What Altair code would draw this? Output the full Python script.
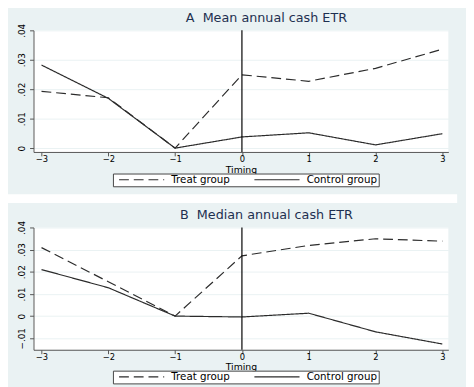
import altair as alt
import pandas as pd

timing = [-3, -2, -1, 0, 1, 2, 3]
groups = ["Treat group", "Control group"]

mean_treat = [0.0193, 0.0171, 0.0, 0.0249, 0.0227, 0.0271, 0.0336]
mean_control = [0.0282, 0.0169, 0.0, 0.0038, 0.0052, 0.0011, 0.0049]
median_treat = [0.0309, 0.0155, 0.0, 0.0272, 0.0319, 0.0349, 0.0338]
median_control = [0.0210, 0.0128, 0.0, -0.0004, 0.0013, -0.0071, -0.0126]

mean_ticks = [0, 0.01, 0.02, 0.03, 0.04]
median_ticks = [-0.01, 0, 0.01, 0.02, 0.03, 0.04]

FONT = "DejaVu Sans"
LINE = "#2b2b2b"
AXIS = "#555555"
BG = "#eaf2f3"


def panel(title, treat, control, ydomain, yticks, height, separator):
    df = pd.DataFrame({
        "Timing": timing + timing,
        "value": treat + control,
        "group": [groups[0]] * len(timing) + [groups[1]] * len(timing),
    })
    x = alt.X("Timing:Q",
              scale=alt.Scale(domain=[-3.12, 3.09], nice=False, zero=False),
              axis=alt.Axis(values=timing, format="d", title="Timing",
                            grid=False, tickSize=4, labelPadding=-1,
                            titlePadding=1, labelFontSize=8.5, titleFontSize=9.5,
                            labelFont=FONT, titleFont=FONT,
                            titleFontWeight="normal", labelColor="black",
                            titleColor="black", domainColor=AXIS,
                            tickColor=AXIS, labelFlush=False))
    y = alt.Y("value:Q",
              scale=alt.Scale(domain=ydomain, nice=False, zero=False),
              axis=alt.Axis(values=yticks, title=None,
                            labelExpr="replace(format(datum.value, '.2~f'), '0.', '.')",
                            labelAngle=270, labelAlign="center",
                            labelBaseline="bottom", labelPadding=3,
                            tickSize=4, labelFontSize=9, labelFont=FONT,
                            labelColor="black", domainColor=AXIS,
                            tickColor=AXIS, grid=True, gridColor=BG,
                            minExtent=26, maxExtent=26))
    lines = alt.Chart(df).mark_line(color=LINE, strokeWidth=1.2).encode(
        x=x, y=y,
        strokeDash=alt.StrokeDash(
            "group:N",
            scale=alt.Scale(domain=groups, range=[[10, 5], [1, 0]]),
            legend=alt.Legend(title=None, orient="none", legendX=81,
                              legendY=146, direction="horizontal", columns=2,
                              columnPadding=19, symbolType="M0,0H11.5",
                              symbolSize=64, symbolStrokeWidth=1.2,
                              symbolStrokeColor=LINE, labelOffset=48,
                              labelFontSize=10.5, labelFont=FONT,
                              labelColor="black", strokeColor="#444444",
                              fillColor="white", padding=1)),
    )
    rule = alt.Chart(pd.DataFrame({"x0": [0]})).mark_rule(
        color="black", strokeWidth=1.2).encode(x=alt.X("x0:Q"))
    layers = [lines, rule]
    if separator:
        sep = alt.Chart(pd.DataFrame({"s": [0]})).mark_rect(color="white").encode(
            x=alt.value(-26), x2=alt.value(432), y=alt.value(167), y2=alt.value(176))
        layers = [sep] + layers
    return alt.layer(*layers).properties(
        width=423, height=height,
        title=alt.TitleParams(text=title, fontSize=13, font=FONT,
                              fontWeight="normal", color="#1e3050",
                              anchor="middle", frame="group", dx=26,
                              offset=-2),
    )


pa = panel("A\u00a0\u00a0Mean annual cash ETR", mean_treat, mean_control,
           [-0.0013, 0.0400], mean_ticks, 124, True)
pb = panel("B\u00a0\u00a0Median annual cash ETR", median_treat, median_control,
           [-0.0152, 0.0400], median_ticks, 124.7, False)

chart = alt.vconcat(pa, pb, spacing=6).resolve_legend(
    strokeDash="independent").resolve_scale(strokeDash="independent").properties(
    background=BG,
    padding={"left": 0, "top": 0, "right": 9, "bottom": 5},
).configure_view(fill="white", strokeWidth=0)

chart.save("out.html", embed_options={"renderer": "svg", "actions": False})
